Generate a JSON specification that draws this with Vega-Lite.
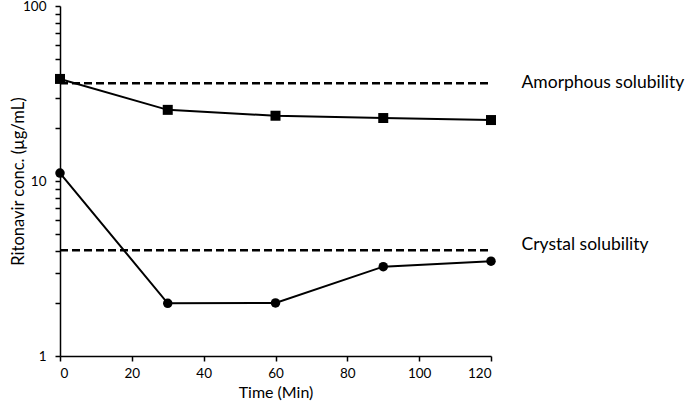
{
  "$schema": "https://vega.github.io/schema/vega-lite/v6.json",
  "autosize": {"type": "none"},
  "padding": {"left": 60, "top": 6, "right": 194, "bottom": 53},
  "width": 431,
  "height": 350,
  "background": "white",
  "config": {
    "view": {"stroke": null},
    "font": "Lato",
    "axis": {
      "domainColor": "black",
      "domainWidth": 1.5,
      "tickColor": "black",
      "tickWidth": 1.5,
      "tickSize": 5,
      "labelColor": "black",
      "titleColor": "black",
      "labelFont": "Lato",
      "titleFont": "Lato",
      "labelFontSize": 13.5,
      "titleFontSize": 16,
      "titleFontWeight": "normal",
      "grid": false
    }
  },
  "datasets": {
    "conc": [
      {"series": "amorphous", "time": 0, "conc": 38.3},
      {"series": "amorphous", "time": 30, "conc": 25.5},
      {"series": "amorphous", "time": 60, "conc": 23.6},
      {"series": "amorphous", "time": 90, "conc": 22.9},
      {"series": "amorphous", "time": 120, "conc": 22.3},
      {"series": "crystal", "time": 0, "conc": 11.1},
      {"series": "crystal", "time": 30, "conc": 2.0},
      {"series": "crystal", "time": 60, "conc": 2.01},
      {"series": "crystal", "time": 90, "conc": 3.24},
      {"series": "crystal", "time": 120, "conc": 3.48}
    ],
    "solubility": [
      {"label": "Amorphous solubility", "value": 36.2, "start": 0, "end": 120, "labelAt": 128.5, "labelValue": 36.2},
      {"label": "Crystal solubility", "value": 4.02, "start": 0, "end": 120, "labelAt": 128.5, "labelValue": 4.3}
    ]
  },
  "layer": [
    {
      "data": {"name": "solubility"},
      "mark": {"type": "rule", "color": "black", "strokeWidth": 2.5, "strokeDash": [8, 4]},
      "encoding": {
        "x": {"field": "start", "type": "quantitative"},
        "x2": {"field": "end"},
        "y": {"field": "value", "type": "quantitative"}
      }
    },
    {
      "data": {"name": "conc"},
      "mark": {"type": "line", "color": "black", "strokeWidth": 2},
      "encoding": {
        "x": {
          "field": "time",
          "type": "quantitative",
          "title": "Time (Min)",
          "scale": {"domain": [0, 120], "nice": false},
          "axis": {"values": [0, 20, 40, 60, 80, 100, 120], "labelPadding": 5, "titlePadding": 5}
        },
        "y": {
          "field": "conc",
          "type": "quantitative",
          "title": "Ritonavir conc. (µg/mL)",
          "scale": {"type": "log", "domain": [1, 100], "nice": false},
          "axis": {
            "values": [1, 2, 3, 4, 5, 6, 7, 8, 9, 10, 20, 30, 40, 50, 60, 70, 80, 90, 100],
            "labelExpr": "datum.value == 1 || datum.value == 10 || datum.value == 100 ? format(datum.value, 'd') : ''",
            "labelPadding": 9,
            "titleFontSize": 16.5,
            "titlePadding": -4
          }
        },
        "detail": {"field": "series"}
      }
    },
    {
      "data": {"name": "conc"},
      "transform": [{"filter": "datum.series == 'amorphous'"}],
      "mark": {"type": "point", "shape": "square", "filled": true, "color": "black", "opacity": 1, "size": 100},
      "encoding": {
        "x": {"field": "time", "type": "quantitative"},
        "y": {"field": "conc", "type": "quantitative"}
      }
    },
    {
      "data": {"name": "conc"},
      "transform": [{"filter": "datum.series == 'crystal'"}],
      "mark": {"type": "point", "shape": "circle", "filled": true, "color": "black", "opacity": 1, "size": 90},
      "encoding": {
        "x": {"field": "time", "type": "quantitative"},
        "y": {"field": "conc", "type": "quantitative"}
      }
    },
    {
      "data": {"name": "solubility"},
      "mark": {"type": "text", "align": "left", "baseline": "middle", "fontSize": 17.5, "font": "Lato", "color": "black", "clip": false},
      "encoding": {
        "x": {"field": "labelAt", "type": "quantitative"},
        "y": {"field": "labelValue", "type": "quantitative"},
        "text": {"field": "label"}
      }
    }
  ]
}
